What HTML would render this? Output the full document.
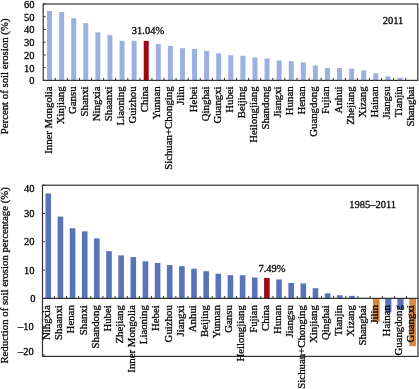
<!DOCTYPE html>
<html><head><meta charset="utf-8"><style>
html,body{margin:0;padding:0;background:#fff;width:419px;height:389px;overflow:hidden}
svg{display:block;will-change:transform;font-family:"Liberation Serif", serif;fill:#000}
text{fill:#000;stroke:#000;stroke-width:0.28px}
</style></head><body>
<svg width="419" height="389" viewBox="0 0 419 389">
<rect width="419" height="389" fill="#fff"/>
<rect x="47.04" y="11.00" width="5.0" height="69.40" fill="#9cb0e0"/>
<rect x="59.13" y="12.02" width="5.0" height="68.38" fill="#9cb0e0"/>
<rect x="71.21" y="18.26" width="5.0" height="62.14" fill="#9cb0e0"/>
<rect x="83.29" y="23.10" width="5.0" height="57.30" fill="#9cb0e0"/>
<rect x="95.38" y="32.40" width="5.0" height="48.00" fill="#9cb0e0"/>
<rect x="107.46" y="35.20" width="5.0" height="45.20" fill="#9cb0e0"/>
<rect x="119.55" y="40.80" width="5.0" height="39.60" fill="#9cb0e0"/>
<rect x="131.63" y="40.80" width="5.0" height="39.60" fill="#9cb0e0"/>
<rect x="143.71" y="40.88" width="5.0" height="39.52" fill="#9a0812"/>
<rect x="155.80" y="44.11" width="5.0" height="36.29" fill="#9cb0e0"/>
<rect x="167.88" y="46.02" width="5.0" height="34.38" fill="#9cb0e0"/>
<rect x="179.96" y="48.18" width="5.0" height="32.22" fill="#9cb0e0"/>
<rect x="192.05" y="48.95" width="5.0" height="31.45" fill="#9cb0e0"/>
<rect x="204.13" y="50.86" width="5.0" height="29.54" fill="#9cb0e0"/>
<rect x="216.22" y="53.28" width="5.0" height="27.12" fill="#9cb0e0"/>
<rect x="228.30" y="55.19" width="5.0" height="25.21" fill="#9cb0e0"/>
<rect x="240.38" y="55.70" width="5.0" height="24.70" fill="#9cb0e0"/>
<rect x="252.47" y="57.61" width="5.0" height="22.79" fill="#9cb0e0"/>
<rect x="264.55" y="58.50" width="5.0" height="21.90" fill="#9cb0e0"/>
<rect x="276.64" y="60.41" width="5.0" height="19.99" fill="#9cb0e0"/>
<rect x="288.72" y="61.17" width="5.0" height="19.23" fill="#9cb0e0"/>
<rect x="300.80" y="62.32" width="5.0" height="18.08" fill="#9cb0e0"/>
<rect x="312.89" y="65.50" width="5.0" height="14.90" fill="#9cb0e0"/>
<rect x="324.97" y="67.92" width="5.0" height="12.48" fill="#9cb0e0"/>
<rect x="337.05" y="67.92" width="5.0" height="12.48" fill="#9cb0e0"/>
<rect x="349.14" y="68.56" width="5.0" height="11.84" fill="#9cb0e0"/>
<rect x="361.22" y="70.47" width="5.0" height="9.93" fill="#9cb0e0"/>
<rect x="373.31" y="73.40" width="5.0" height="7.00" fill="#9cb0e0"/>
<rect x="385.39" y="76.33" width="5.0" height="4.07" fill="#9cb0e0"/>
<rect x="397.47" y="77.73" width="5.0" height="2.67" fill="#9cb0e0"/>
<rect x="409.56" y="80.02" width="5.0" height="0.38" fill="#9cb0e0"/>
<rect x="43.2" y="4.0" width="374.60" height="76.40" fill="none" stroke="#333" stroke-width="1.2"/>
<line x1="43.2" y1="80.40" x2="45.7" y2="80.40" stroke="#333" stroke-width="1"/>
<text x="34.5" y="84.40" text-anchor="end" font-size="10.5">0</text>
<line x1="43.2" y1="67.67" x2="45.7" y2="67.67" stroke="#333" stroke-width="1"/>
<text x="34.5" y="71.67" text-anchor="end" font-size="10.5">10</text>
<line x1="43.2" y1="54.93" x2="45.7" y2="54.93" stroke="#333" stroke-width="1"/>
<text x="34.5" y="58.93" text-anchor="end" font-size="10.5">20</text>
<line x1="43.2" y1="42.20" x2="45.7" y2="42.20" stroke="#333" stroke-width="1"/>
<text x="34.5" y="46.20" text-anchor="end" font-size="10.5">30</text>
<line x1="43.2" y1="29.47" x2="45.7" y2="29.47" stroke="#333" stroke-width="1"/>
<text x="34.5" y="33.47" text-anchor="end" font-size="10.5">40</text>
<line x1="43.2" y1="16.73" x2="45.7" y2="16.73" stroke="#333" stroke-width="1"/>
<text x="34.5" y="20.73" text-anchor="end" font-size="10.5">50</text>
<line x1="43.2" y1="4.00" x2="45.7" y2="4.00" stroke="#333" stroke-width="1"/>
<text x="34.5" y="8.00" text-anchor="end" font-size="10.5">60</text>
<line x1="55.28" y1="80.4" x2="55.28" y2="77.9" stroke="#333" stroke-width="1"/>
<line x1="67.37" y1="80.4" x2="67.37" y2="77.9" stroke="#333" stroke-width="1"/>
<line x1="79.45" y1="80.4" x2="79.45" y2="77.9" stroke="#333" stroke-width="1"/>
<line x1="91.54" y1="80.4" x2="91.54" y2="77.9" stroke="#333" stroke-width="1"/>
<line x1="103.62" y1="80.4" x2="103.62" y2="77.9" stroke="#333" stroke-width="1"/>
<line x1="115.70" y1="80.4" x2="115.70" y2="77.9" stroke="#333" stroke-width="1"/>
<line x1="127.79" y1="80.4" x2="127.79" y2="77.9" stroke="#333" stroke-width="1"/>
<line x1="139.87" y1="80.4" x2="139.87" y2="77.9" stroke="#333" stroke-width="1"/>
<line x1="151.95" y1="80.4" x2="151.95" y2="77.9" stroke="#333" stroke-width="1"/>
<line x1="164.04" y1="80.4" x2="164.04" y2="77.9" stroke="#333" stroke-width="1"/>
<line x1="176.12" y1="80.4" x2="176.12" y2="77.9" stroke="#333" stroke-width="1"/>
<line x1="188.21" y1="80.4" x2="188.21" y2="77.9" stroke="#333" stroke-width="1"/>
<line x1="200.29" y1="80.4" x2="200.29" y2="77.9" stroke="#333" stroke-width="1"/>
<line x1="212.37" y1="80.4" x2="212.37" y2="77.9" stroke="#333" stroke-width="1"/>
<line x1="224.46" y1="80.4" x2="224.46" y2="77.9" stroke="#333" stroke-width="1"/>
<line x1="236.54" y1="80.4" x2="236.54" y2="77.9" stroke="#333" stroke-width="1"/>
<line x1="248.63" y1="80.4" x2="248.63" y2="77.9" stroke="#333" stroke-width="1"/>
<line x1="260.71" y1="80.4" x2="260.71" y2="77.9" stroke="#333" stroke-width="1"/>
<line x1="272.79" y1="80.4" x2="272.79" y2="77.9" stroke="#333" stroke-width="1"/>
<line x1="284.88" y1="80.4" x2="284.88" y2="77.9" stroke="#333" stroke-width="1"/>
<line x1="296.96" y1="80.4" x2="296.96" y2="77.9" stroke="#333" stroke-width="1"/>
<line x1="309.05" y1="80.4" x2="309.05" y2="77.9" stroke="#333" stroke-width="1"/>
<line x1="321.13" y1="80.4" x2="321.13" y2="77.9" stroke="#333" stroke-width="1"/>
<line x1="333.21" y1="80.4" x2="333.21" y2="77.9" stroke="#333" stroke-width="1"/>
<line x1="345.30" y1="80.4" x2="345.30" y2="77.9" stroke="#333" stroke-width="1"/>
<line x1="357.38" y1="80.4" x2="357.38" y2="77.9" stroke="#333" stroke-width="1"/>
<line x1="369.46" y1="80.4" x2="369.46" y2="77.9" stroke="#333" stroke-width="1"/>
<line x1="381.55" y1="80.4" x2="381.55" y2="77.9" stroke="#333" stroke-width="1"/>
<line x1="393.63" y1="80.4" x2="393.63" y2="77.9" stroke="#333" stroke-width="1"/>
<line x1="405.72" y1="80.4" x2="405.72" y2="77.9" stroke="#333" stroke-width="1"/>
<text transform="translate(51.54,86.4) rotate(-90)" text-anchor="end" font-size="10.8">Inner Mongolia</text>
<text transform="translate(63.63,86.4) rotate(-90)" text-anchor="end" font-size="10.8">Xinjiang</text>
<text transform="translate(75.71,86.4) rotate(-90)" text-anchor="end" font-size="10.8">Gansu</text>
<text transform="translate(87.79,86.4) rotate(-90)" text-anchor="end" font-size="10.8">Shanxi</text>
<text transform="translate(99.88,86.4) rotate(-90)" text-anchor="end" font-size="10.8">Ningxia</text>
<text transform="translate(111.96,86.4) rotate(-90)" text-anchor="end" font-size="10.8">Shaanxi</text>
<text transform="translate(124.05,86.4) rotate(-90)" text-anchor="end" font-size="10.8">Liaoning</text>
<text transform="translate(136.13,86.4) rotate(-90)" text-anchor="end" font-size="10.8">Guizhou</text>
<text transform="translate(148.21,86.4) rotate(-90)" text-anchor="end" font-size="10.8">China</text>
<text transform="translate(160.30,86.4) rotate(-90)" text-anchor="end" font-size="10.8">Yunnan</text>
<text transform="translate(172.38,86.4) rotate(-90)" text-anchor="end" font-size="10.8">Sichuan+Chonging</text>
<text transform="translate(184.46,86.4) rotate(-90)" text-anchor="end" font-size="10.8">Jilin</text>
<text transform="translate(196.55,86.4) rotate(-90)" text-anchor="end" font-size="10.8">Hebei</text>
<text transform="translate(208.63,86.4) rotate(-90)" text-anchor="end" font-size="10.8">Qinghai</text>
<text transform="translate(220.72,86.4) rotate(-90)" text-anchor="end" font-size="10.8">Guangxi</text>
<text transform="translate(232.80,86.4) rotate(-90)" text-anchor="end" font-size="10.8">Hubei</text>
<text transform="translate(244.88,86.4) rotate(-90)" text-anchor="end" font-size="10.8">Beijing</text>
<text transform="translate(256.97,86.4) rotate(-90)" text-anchor="end" font-size="10.8">Heilongjiang</text>
<text transform="translate(269.05,86.4) rotate(-90)" text-anchor="end" font-size="10.8">Shandong</text>
<text transform="translate(281.14,86.4) rotate(-90)" text-anchor="end" font-size="10.8">Jiangxi</text>
<text transform="translate(293.22,86.4) rotate(-90)" text-anchor="end" font-size="10.8">Hunan</text>
<text transform="translate(305.30,86.4) rotate(-90)" text-anchor="end" font-size="10.8">Henan</text>
<text transform="translate(317.39,86.4) rotate(-90)" text-anchor="end" font-size="10.8">Guangdong</text>
<text transform="translate(329.47,86.4) rotate(-90)" text-anchor="end" font-size="10.8">Fujian</text>
<text transform="translate(341.55,86.4) rotate(-90)" text-anchor="end" font-size="10.8">Anhui</text>
<text transform="translate(353.64,86.4) rotate(-90)" text-anchor="end" font-size="10.8">Zhejiang</text>
<text transform="translate(365.72,86.4) rotate(-90)" text-anchor="end" font-size="10.8">Xizang</text>
<text transform="translate(377.81,86.4) rotate(-90)" text-anchor="end" font-size="10.8">Hainan</text>
<text transform="translate(389.89,86.4) rotate(-90)" text-anchor="end" font-size="10.8">Jiangsu</text>
<text transform="translate(401.97,86.4) rotate(-90)" text-anchor="end" font-size="10.8">Tianjin</text>
<text transform="translate(414.06,86.4) rotate(-90)" text-anchor="end" font-size="10.8">Shanghai</text>
<text x="148" y="33.8" text-anchor="middle" font-size="10.5">31.04%</text>
<text x="393" y="24" text-anchor="middle" font-size="10.5">2011</text>
<text transform="translate(7.9,76.4) rotate(-90)" text-anchor="middle" font-size="10.8">Percent of soil erosion (%)</text>
<rect x="45.47" y="193.41" width="5.6" height="104.99" fill="#5a72b8"/>
<rect x="57.62" y="216.61" width="5.6" height="81.79" fill="#5a72b8"/>
<rect x="69.76" y="228.22" width="5.6" height="70.18" fill="#5a72b8"/>
<rect x="81.91" y="231.33" width="5.6" height="67.07" fill="#5a72b8"/>
<rect x="94.05" y="238.40" width="5.6" height="60.00" fill="#5a72b8"/>
<rect x="106.20" y="251.14" width="5.6" height="47.26" fill="#5a72b8"/>
<rect x="118.34" y="255.38" width="5.6" height="43.02" fill="#5a72b8"/>
<rect x="130.49" y="257.08" width="5.6" height="41.32" fill="#5a72b8"/>
<rect x="142.63" y="261.33" width="5.6" height="37.07" fill="#5a72b8"/>
<rect x="154.78" y="263.02" width="5.6" height="35.38" fill="#5a72b8"/>
<rect x="166.92" y="265.01" width="5.6" height="33.39" fill="#5a72b8"/>
<rect x="179.07" y="266.14" width="5.6" height="32.26" fill="#5a72b8"/>
<rect x="191.21" y="268.69" width="5.6" height="29.71" fill="#5a72b8"/>
<rect x="203.36" y="271.23" width="5.6" height="27.17" fill="#5a72b8"/>
<rect x="215.50" y="273.78" width="5.6" height="24.62" fill="#5a72b8"/>
<rect x="227.65" y="275.19" width="5.6" height="23.21" fill="#5a72b8"/>
<rect x="239.79" y="275.19" width="5.6" height="23.21" fill="#5a72b8"/>
<rect x="251.94" y="277.46" width="5.6" height="20.94" fill="#5a72b8"/>
<rect x="264.08" y="278.02" width="5.6" height="20.38" fill="#9a0812"/>
<rect x="276.23" y="279.44" width="5.6" height="18.96" fill="#5a72b8"/>
<rect x="288.37" y="282.83" width="5.6" height="15.56" fill="#5a72b8"/>
<rect x="300.52" y="283.40" width="5.6" height="15.00" fill="#5a72b8"/>
<rect x="312.66" y="288.21" width="5.6" height="10.19" fill="#5a72b8"/>
<rect x="324.81" y="293.31" width="5.6" height="5.09" fill="#5a72b8"/>
<rect x="336.95" y="295.29" width="5.6" height="3.11" fill="#5a72b8"/>
<rect x="349.10" y="295.85" width="5.6" height="2.55" fill="#5a72b8"/>
<rect x="361.24" y="297.83" width="5.6" height="0.57" fill="#5a72b8"/>
<rect x="372.79" y="298.40" width="6.8" height="23.49" fill="#d8883a"/>
<rect x="385.23" y="298.40" width="6.2" height="14.15" fill="#5a72b8"/>
<rect x="397.38" y="298.40" width="6.2" height="10.75" fill="#5a72b8"/>
<rect x="409.22" y="298.40" width="6.8" height="47.83" fill="#d8883a"/>
<rect x="42.5" y="185.2" width="375.50" height="171.20" fill="none" stroke="#333" stroke-width="1.2"/>
<line x1="42.5" y1="298.4" x2="418.0" y2="298.4" stroke="#333" stroke-width="1.2"/>
<line x1="42.5" y1="355.00" x2="45.0" y2="355.00" stroke="#333" stroke-width="1"/>
<text x="33.7" y="355.10" text-anchor="end" font-size="10.5">–20</text>
<line x1="42.5" y1="326.70" x2="45.0" y2="326.70" stroke="#333" stroke-width="1"/>
<text x="33.7" y="330.10" text-anchor="end" font-size="10.5">–10</text>
<line x1="42.5" y1="298.40" x2="45.0" y2="298.40" stroke="#333" stroke-width="1"/>
<text x="35.5" y="301.80" text-anchor="end" font-size="10.5">0</text>
<line x1="42.5" y1="270.10" x2="45.0" y2="270.10" stroke="#333" stroke-width="1"/>
<text x="34.5" y="273.50" text-anchor="end" font-size="10.5">10</text>
<line x1="42.5" y1="241.80" x2="45.0" y2="241.80" stroke="#333" stroke-width="1"/>
<text x="34.5" y="245.20" text-anchor="end" font-size="10.5">20</text>
<line x1="42.5" y1="213.50" x2="45.0" y2="213.50" stroke="#333" stroke-width="1"/>
<text x="34.5" y="216.90" text-anchor="end" font-size="10.5">30</text>
<line x1="42.5" y1="185.20" x2="45.0" y2="185.20" stroke="#333" stroke-width="1"/>
<text x="34.5" y="191.60" text-anchor="end" font-size="10.5">40</text>
<line x1="54.34" y1="298.4" x2="54.34" y2="295.9" stroke="#333" stroke-width="1"/>
<line x1="66.49" y1="298.4" x2="66.49" y2="295.9" stroke="#333" stroke-width="1"/>
<line x1="78.64" y1="298.4" x2="78.64" y2="295.9" stroke="#333" stroke-width="1"/>
<line x1="90.78" y1="298.4" x2="90.78" y2="295.9" stroke="#333" stroke-width="1"/>
<line x1="102.92" y1="298.4" x2="102.92" y2="295.9" stroke="#333" stroke-width="1"/>
<line x1="115.07" y1="298.4" x2="115.07" y2="295.9" stroke="#333" stroke-width="1"/>
<line x1="127.22" y1="298.4" x2="127.22" y2="295.9" stroke="#333" stroke-width="1"/>
<line x1="139.36" y1="298.4" x2="139.36" y2="295.9" stroke="#333" stroke-width="1"/>
<line x1="151.50" y1="298.4" x2="151.50" y2="295.9" stroke="#333" stroke-width="1"/>
<line x1="163.65" y1="298.4" x2="163.65" y2="295.9" stroke="#333" stroke-width="1"/>
<line x1="175.80" y1="298.4" x2="175.80" y2="295.9" stroke="#333" stroke-width="1"/>
<line x1="187.94" y1="298.4" x2="187.94" y2="295.9" stroke="#333" stroke-width="1"/>
<line x1="200.08" y1="298.4" x2="200.08" y2="295.9" stroke="#333" stroke-width="1"/>
<line x1="212.23" y1="298.4" x2="212.23" y2="295.9" stroke="#333" stroke-width="1"/>
<line x1="224.38" y1="298.4" x2="224.38" y2="295.9" stroke="#333" stroke-width="1"/>
<line x1="236.52" y1="298.4" x2="236.52" y2="295.9" stroke="#333" stroke-width="1"/>
<line x1="248.67" y1="298.4" x2="248.67" y2="295.9" stroke="#333" stroke-width="1"/>
<line x1="260.81" y1="298.4" x2="260.81" y2="295.9" stroke="#333" stroke-width="1"/>
<line x1="272.95" y1="298.4" x2="272.95" y2="295.9" stroke="#333" stroke-width="1"/>
<line x1="285.10" y1="298.4" x2="285.10" y2="295.9" stroke="#333" stroke-width="1"/>
<line x1="297.25" y1="298.4" x2="297.25" y2="295.9" stroke="#333" stroke-width="1"/>
<line x1="309.39" y1="298.4" x2="309.39" y2="295.9" stroke="#333" stroke-width="1"/>
<line x1="321.53" y1="298.4" x2="321.53" y2="295.9" stroke="#333" stroke-width="1"/>
<line x1="333.68" y1="298.4" x2="333.68" y2="295.9" stroke="#333" stroke-width="1"/>
<line x1="345.82" y1="298.4" x2="345.82" y2="295.9" stroke="#333" stroke-width="1"/>
<line x1="357.97" y1="298.4" x2="357.97" y2="295.9" stroke="#333" stroke-width="1"/>
<line x1="370.11" y1="298.4" x2="370.11" y2="295.9" stroke="#333" stroke-width="1"/>
<line x1="382.26" y1="298.4" x2="382.26" y2="295.9" stroke="#333" stroke-width="1"/>
<line x1="394.40" y1="298.4" x2="394.40" y2="295.9" stroke="#333" stroke-width="1"/>
<line x1="406.55" y1="298.4" x2="406.55" y2="295.9" stroke="#333" stroke-width="1"/>
<text transform="translate(50.07,305.2) rotate(-90)" text-anchor="end" font-size="10.8">Nihgxia</text>
<text transform="translate(62.22,305.2) rotate(-90)" text-anchor="end" font-size="10.8">Shaanxi</text>
<text transform="translate(74.36,305.2) rotate(-90)" text-anchor="end" font-size="10.8">Henan</text>
<text transform="translate(86.51,305.2) rotate(-90)" text-anchor="end" font-size="10.8">Shanxi</text>
<text transform="translate(98.65,305.2) rotate(-90)" text-anchor="end" font-size="10.8">Shandong</text>
<text transform="translate(110.80,305.2) rotate(-90)" text-anchor="end" font-size="10.8">Hubei</text>
<text transform="translate(122.94,305.2) rotate(-90)" text-anchor="end" font-size="10.8">Zhejiang</text>
<text transform="translate(135.09,305.2) rotate(-90)" text-anchor="end" font-size="10.8">Inner Mongolia</text>
<text transform="translate(147.23,305.2) rotate(-90)" text-anchor="end" font-size="10.8">Liaoning</text>
<text transform="translate(159.38,305.2) rotate(-90)" text-anchor="end" font-size="10.8">Hebei</text>
<text transform="translate(171.52,305.2) rotate(-90)" text-anchor="end" font-size="10.8">Guizhou</text>
<text transform="translate(183.67,305.2) rotate(-90)" text-anchor="end" font-size="10.8">Jiangxi</text>
<text transform="translate(195.81,305.2) rotate(-90)" text-anchor="end" font-size="10.8">Anhui</text>
<text transform="translate(207.96,305.2) rotate(-90)" text-anchor="end" font-size="10.8">Beijing</text>
<text transform="translate(220.10,305.2) rotate(-90)" text-anchor="end" font-size="10.8">Yunnan</text>
<text transform="translate(232.25,305.2) rotate(-90)" text-anchor="end" font-size="10.8">Gansu</text>
<text transform="translate(244.39,305.2) rotate(-90)" text-anchor="end" font-size="10.8">Heilongjiang</text>
<text transform="translate(256.54,305.2) rotate(-90)" text-anchor="end" font-size="10.8">Fujian</text>
<text transform="translate(268.68,305.2) rotate(-90)" text-anchor="end" font-size="10.8">China</text>
<text transform="translate(280.83,305.2) rotate(-90)" text-anchor="end" font-size="10.8">Hunan</text>
<text transform="translate(292.97,305.2) rotate(-90)" text-anchor="end" font-size="10.8">Jiangsu</text>
<text transform="translate(305.12,305.2) rotate(-90)" text-anchor="end" font-size="10.8">Sichuan+Chonging</text>
<text transform="translate(317.26,305.2) rotate(-90)" text-anchor="end" font-size="10.8">Xinjiang</text>
<text transform="translate(329.41,305.2) rotate(-90)" text-anchor="end" font-size="10.8">Qinghai</text>
<text transform="translate(341.55,305.2) rotate(-90)" text-anchor="end" font-size="10.8">Tianjin</text>
<text transform="translate(353.70,305.2) rotate(-90)" text-anchor="end" font-size="10.8">Xizang</text>
<text transform="translate(365.84,305.2) rotate(-90)" text-anchor="end" font-size="10.8">Shanghai</text>
<text transform="translate(377.99,305.2) rotate(-90)" text-anchor="end" font-size="10.8">Jilin</text>
<text transform="translate(390.13,305.2) rotate(-90)" text-anchor="end" font-size="10.8">Hainan</text>
<text transform="translate(402.28,305.2) rotate(-90)" text-anchor="end" font-size="10.8">Guangdong</text>
<text transform="translate(414.42,305.2) rotate(-90)" text-anchor="end" font-size="10.8">Guangxi</text>
<text x="272" y="271.7" text-anchor="middle" font-size="10.5">7.49%</text>
<text x="372.7" y="208.4" text-anchor="middle" font-size="10.5">1985–2011</text>
<text transform="translate(8.1,275.4) rotate(-90)" text-anchor="middle" font-size="10.75">Reduction of soil erosion percentage (%)</text>
</svg>
</body></html>
